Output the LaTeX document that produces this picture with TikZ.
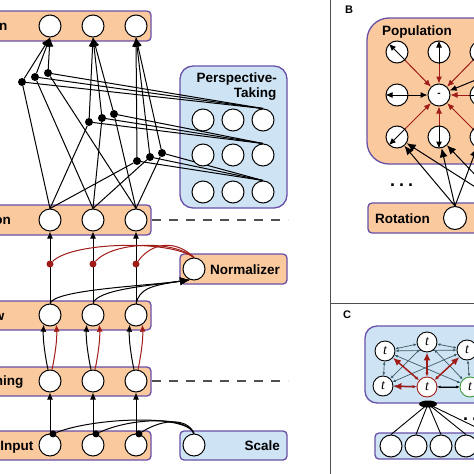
\documentclass[tikz,border=0pt]{standalone}
\usepackage{fontspec}
\newfontfamily\sansf{Liberation Sans}
\newfontfamily\seriff{Liberation Serif}
\usetikzlibrary{arrows.meta,calc,shapes.geometric}
\definecolor{bandfill}{RGB}{250,201,158}
\definecolor{bandline}{RGB}{104,80,168}
\definecolor{bluefill}{RGB}{206,228,245}
\definecolor{redc}{RGB}{160,28,24}
\definecolor{grayc}{RGB}{62,92,102}
\definecolor{greenc}{RGB}{60,150,60}
\definecolor{sepc}{RGB}{80,80,80}
\pgfdeclarelayer{back}
\pgfdeclarelayer{mid}
\pgfsetlayers{back,mid,main}
\begin{document}
\begin{tikzpicture}[x=1pt,y=-1pt,
 band/.style={draw=bandline, fill=bandfill, line width=1.3pt, rounded corners=4pt},
 bluebox/.style={draw=bandline, fill=bluefill, line width=1.3pt, rounded corners=4pt},
 unit/.style={circle, draw=black, fill=white, line width=1pt, minimum size=22pt, inner sep=0pt},
 tunit/.style={circle, draw=black, fill=white, line width=0.9pt, minimum size=20pt, inner sep=0pt, font=\seriff\itshape\fontsize{14}{14}\selectfont},
 bdot/.style={circle, fill=black, minimum size=8pt, inner sep=0pt},
 rdot/.style={circle, fill=redc, minimum size=7pt, inner sep=0pt},
 lab/.style={font=\sansf\bfseries\fontsize{13.5}{15}\selectfont, inner sep=0pt},
 plab/.style={font=\sansf\bfseries\fontsize{11}{12}\selectfont, inner sep=0pt},
 conn/.style={line width=1pt},
 tipA/.style={-{Latex[length=7pt,width=6pt]}},
 tipB/.style={-{Latex[length=9pt,width=8pt]}},
 tipC/.style={-{Latex[length=10pt,width=8pt]}},
 small/.style={line width=0.7pt, {Latex[length=3.2pt,width=2.8pt]}-{Latex[length=3.2pt,width=2.8pt]}},
 redarr/.style={line width=1.5pt, redc, {Latex[length=4pt,width=3.5pt]}-{Latex[length=8pt,width=7pt]}},
 sepline/.style={line width=0.9pt, sepc},
 dashline/.style={line width=1.1pt, sepc, dash pattern=on 9pt off 8pt}
]
\useasboundingbox (0,0) rectangle (474,474);
\clip (0,0) rectangle (474,474);
\begin{pgfonlayer}{back}
\fill[white] (0,0) rectangle (474,474);
% left bands
\draw[band] (-20,11) rectangle (151,41);
\draw[band] (-20,205) rectangle (151,235);
\draw[band] (-20,301) rectangle (151,330);
\draw[band] (-20,367) rectangle (151,396);
\draw[band] (-20,431) rectangle (151,460);
\draw[band] (180,254) rectangle (287,284);
\draw[bluebox] (180,431) rectangle (287,460);
\draw[bluebox, rounded corners=13pt] (180,66) rectangle (287,208);
% panel B
\draw[band, rounded corners=22pt] (367,18) rectangle (560,164);
\draw[band] (368,203) rectangle (560,233);
% panel C
\draw[bluebox, rounded corners=12pt] (365,326) rectangle (560,403);
\draw[bluebox] (375,433) rectangle (560,459);
\end{pgfonlayer}

% separators
\coordinate (sv1) at (330,-5);
\coordinate (sv2) at (330,480);
\coordinate (sh1) at (330,303);
\coordinate (sh2) at (480,303);
\draw[sepline] (sv1) -- (sv2);
\draw[sepline] (sh1) -- (sh2);

% labels panel A
\node[lab, anchor=base east] (t1) at (7.5,30.5) {n};
\node[lab, anchor=base east] (t2) at (11,224.5) {on};
\node[lab, anchor=base east] (t3) at (4.5,320) {w};
\node[lab, anchor=base east] (t4) at (23.5,385.5) {ning};
\node[lab, anchor=base east] (t5) at (33.5,450) {Input};
\node[lab, anchor=base east] (tn) at (280,274.5) {Normalizer};
\node[lab, anchor=base east] (ts) at (280,450.5) {Scale};
\node[lab, anchor=base east] (tp1) at (277,82) {Perspective-};
\node[lab, anchor=base east] (tp2) at (276.5,97.5) {Taking};

% units panel A
\foreach \i/\x in {1/50,2/93,3/136} {
 \node[unit] (a\i) at (\x,26) {};
 \node[unit] (b\i) at (\x,220) {};
 \node[unit] (c\i) at (\x,315) {};
 \node[unit] (d\i) at (\x,381) {};
 \node[unit] (e\i) at (\x,445) {};
 \node[rdot] (r\i) at (\x,264) {};
 \node[bdot, minimum size=7pt] (h\i) at (e\i.75) {};
}
\node[unit] (nc) at (194,269) {};
\node[unit] (sc) at (194,445) {};
\foreach \r/\y in {1/120,2/155,3/192}
 \foreach \c/\x in {1/203,2/233,3/263}
  \node[unit] (p\r\c) at (\x,\y) {};

% gating dots
\node[bdot] (g11) at (22,82) {};
\node[bdot] (g12) at (35,77) {};
\node[bdot] (g13) at (48,73) {};
\node[bdot] (g21) at (89,122) {};
\node[bdot] (g22) at (102,118) {};
\node[bdot] (g23) at (114,114) {};
\node[bdot] (g31) at (137,161) {};
\node[bdot] (g32) at (150,157) {};
\node[bdot] (g33) at (162,153) {};

% dashed lines
\coordinate (ds1) at (152,220);
\coordinate (de1) at (288,220);
\coordinate (ds2) at (152,381);
\coordinate (de2) at (288,381);
\draw[dashline] (ds1) -- (de1);
\draw[dashline] (ds2) -- (de2);

% panel B nodes
\node[plab, anchor=base west] (lb) at (345,13) {B};
\node[lab, anchor=base west] (tpop) at (382,35) {Population};
\node[unit] (q11) at (397,52) {};
\node[unit] (q12) at (439,52) {};
\node[unit] (q13) at (481,52) {};
\node[unit] (q21) at (397,95) {};
\node[unit, font=\sansf\bfseries\fontsize{10}{10}\selectfont] (q22) at (439,95) {-};
\node[unit] (q23) at (481,95) {};
\node[unit] (q31) at (397,137) {};
\node[unit] (q32) at (439,137) {};
\node[unit] (q33) at (481,137) {};
\node[lab, anchor=base west] (trot) at (375,223) {Rotation};
\node[unit, minimum size=23pt] (rot1) at (455,218) {};
\node[unit, minimum size=23pt] (rot2) at (505,218) {};
\node[font=\sansf\bfseries\fontsize{18}{18}\selectfont, inner sep=0pt, anchor=base west] (dotsB) at (390,186) {.\hspace{4pt}.\hspace{4pt}.};
\coordinate (offB) at (500,70);

% panel C nodes
\node[plab, anchor=base west] (lc) at (343,318) {C};
\node[tunit] (T1) at (385,351) {t};
\node[tunit] (T2) at (427,342) {t};
\node[tunit] (T3) at (467,350) {t};
\node[tunit] (T4) at (383,386) {t};
\node[tunit, draw=redc] (Tc) at (427,387) {t};
\node[tunit, draw=greenc] (G) at (470,387) {t};
\node[ellipse, fill=black, minimum width=18pt, minimum height=7pt, inner sep=0pt] (ell) at (428,404) {};
\foreach \k/\x in {1/391,2/416,3/441,4/466,5/491}
 \node[unit] (m\k) at (\x,446) {};
\node[font=\sansf\bfseries\fontsize{18}{18}\selectfont, inner sep=0pt, anchor=base west] (dotsC) at (463,420) {.\hspace{4pt}.\hspace{4pt}.};

% connectors
\begin{pgfonlayer}{mid}
\foreach \j in {1,2,3} {
 \foreach \i in {1,2,3} {
  \draw[conn, tipB] (g\j\i) -- (a\j.south);
  \draw[conn] (g\j\i) -- (b\i.north);
  \draw[conn] (g\j\i) -- (p\j3.north);
 }
}
\foreach \i in {1,2,3} {
 \draw[conn, tipA] (e\i.north) -- (d\i.south);
 \draw[conn, tipA] (d\i.100) .. controls +(-3,-14) and +(-1,14) .. (c\i.237);
 \draw[conn, redc, tipA] (d\i.80) .. controls +(3,-14) and +(1,14) .. (c\i.303);
 \draw[conn, tipA] (c\i.north) -- (b\i.south);
 \draw[conn, tipC] (c\i.north) .. controls +(4,-14) and +(-42,6) .. (nc.250);
}
\foreach \i/\cx/\cy/\dx in {1/-8/-20/40, 2/-8/-18/35, 3/-6/-15/25}
 \draw[conn] (sc.north) .. controls +(\cx,\cy) and +(\dx,-16) .. (h\i);
\foreach \i/\a/\b in {1/-25/22, 2/-22/20, 3/-18/16}
 \draw[conn, redc] (nc.north) .. controls +(\a,-18) and +(\b,-22) .. (r\i);

% panel B connectors
\foreach \q in {q11,q12,q13,q23,q31,q32,q33}
 \draw[conn, redc, tipA] (\q) -- (q22);
\draw[conn, tipA] (q21.east) -- (q22);
\draw[conn, tipA] (offB) -- (q22);
\foreach \q in {q31,q32,q33} {
 \draw[conn, tipB] (rot1.north) -- (\q);
 \draw[conn, tipB] (rot2.north) -- (\q);
}

% panel C connectors
\draw[small, grayc] (T1) -- (T2);
\draw[small, grayc] (T2) -- (T3);
\draw[small, grayc] (T1) -- (T3);
\draw[small, grayc] (T1) -- (T4);
\draw[small, grayc] (T3) -- (G);
\draw[small, grayc] (T4) -- (G);
\draw[small, grayc] (T1) -- (G);
\draw[small, grayc] (T3) -- (T4);
\draw[small, grayc] (T2) -- (T4);
\draw[small, grayc] (T2) -- (G);
\draw[small, black] (Tc) -- (G);
\foreach \t in {T1,T2,T3,T4}
 \draw[redarr] (Tc) -- (\t);
\foreach \k in {1,2,3,4,5}
 \draw[line width=0.9pt] (ell.center) -- (m\k.north);
\end{pgfonlayer}

% arrows inside population units
\foreach \q/\d in {q11/135,q12/90,q13/45,q21/180,q23/0,q31/225,q32/270,q33/315}
 \draw[conn, tipA] (\q.\d+180) -- (\q.\d);
\end{tikzpicture}
\end{document}
